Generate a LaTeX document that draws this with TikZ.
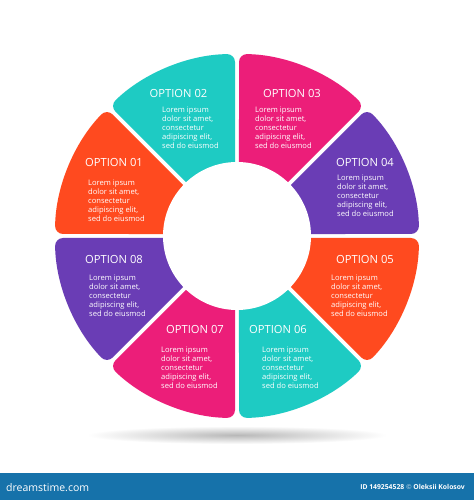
\documentclass[tikz,border=0pt]{standalone}
\usepackage{fontspec}
\setmainfont{Open Sans}
\usetikzlibrary{calc}
\definecolor{cteal}{RGB}{30,203,195}
\definecolor{cpink}{RGB}{236,30,121}
\definecolor{cpurple}{RGB}{106,61,181}
\definecolor{corange}{RGB}{255,74,31}
\definecolor{cbar}{RGB}{22,114,170}
\definecolor{ccopy}{RGB}{150,190,215}
\newcommand\ringseg[3]{%
  \fill[#3, rounded corners=8pt] ($(c)+({(#1+#2)/2}:5.2)$) -- ($(c)+({#1+0.63}:182)$)
    arc[start angle={#1+0.63}, end angle={#2-0.63}, radius=182] -- cycle;}
\begin{document}
\begin{tikzpicture}[x=1pt,y=1pt,
  title/.style={text=white, inner sep=0pt, anchor=base, font=\fontsize{11.2}{13}\selectfont},
  body/.style={text=white, inner sep=0pt, anchor=north west, align=left, font=\fontsize{7.6}{9}\selectfont}]
\useasboundingbox (0,0) rectangle (474,500);
\fill[white] (0,0) rectangle (474,500);
\coordinate (c) at (237,264);
% shadow
\shade[inner color=black!28, outer color=white] (237,65) ellipse[x radius=150, y radius=9];
% segments
\ringseg{45}{90}{cpink}
\ringseg{90}{135}{cteal}
\ringseg{135}{180}{corange}
\ringseg{180}{225}{cpurple}
\ringseg{225}{270}{cpink}
\ringseg{270}{315}{cteal}
\ringseg{315}{360}{corange}
\ringseg{0}{45}{cpurple}
\fill[white] (c) circle (74);
% titles
\node[title] (t02) at (178.5,402) {OPTION 02};
\node[title] (t03) at (292,402) {OPTION 03};
\node[title] (t01) at (114,333) {OPTION 01};
\node[title] (t04) at (365,333) {OPTION 04};
\node[title] (t08) at (114,236) {OPTION 08};
\node[title] (t05) at (365,236) {OPTION 05};
\node[title] (t07) at (195,166) {OPTION 07};
\node[title] (t06) at (278,166) {OPTION 06};
% bodies
\def\lorem{Lorem ipsum\\dolor sit amet,\\consectetur\\adipiscing elit,\\sed do eiusmod}
\node[body] (b02) at (162,393.6) {\lorem};
\node[body] (b03) at (255,393.6) {\lorem};
\node[body] (b01) at (88,320.6) {\lorem};
\node[body] (b04) at (337,325.6) {\lorem};
\node[body] (b08) at (89,225.6) {\lorem};
\node[body] (b05) at (331,225.6) {\lorem};
\node[body] (b07) at (161,153.6) {\lorem};
\node[body] (b06) at (262,153.6) {\lorem};
% bottom bar
\fill[cbar] (0,0) rectangle (474,27.3);
\node[text=white, inner sep=0pt, anchor=base west, font=\fontsize{10.5}{12}\selectfont] (logo) at (6,9) {dreamstime.com};
\node[text=white, inner sep=0pt, anchor=base east, font=\bfseries\fontsize{6.8}{8}\selectfont] (credit) at (465,10) {ID 149254528 \textcolor{ccopy}{©} Oleksii Kolosov};
\end{tikzpicture}
\end{document}
